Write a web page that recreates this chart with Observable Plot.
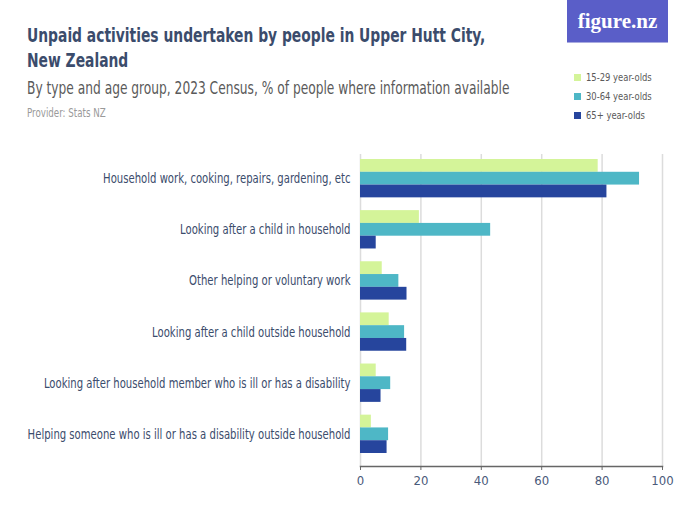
<!DOCTYPE html>
<html>
<head>
<meta charset="utf-8">
<script src="https://cdn.jsdelivr.net/npm/d3@7"></script>
<script src="https://cdn.jsdelivr.net/npm/@observablehq/plot@0.6"></script>
<style>
  html, body { margin: 0; padding: 0; background: #fff; }
  #chart { position: relative; width: 700px; height: 525px; overflow: hidden;
    font-family: "DejaVu Sans Condensed", "Liberation Sans Narrow", Roboto, sans-serif; }
  .narrow { position: absolute; left: 27px; transform-origin: 0 0; white-space: nowrap; }
  .title { top: 23px; font-size: 20px; line-height: 25px; font-weight: 600; color: #3b4c6c;
    transform: scaleX(0.77); }
  .subtitle { top: 78px; font-size: 17px; line-height: 20px; color: #5a5a5a; transform: scaleX(0.8); }
  .provider { top: 106px; font-size: 11.5px; line-height: 14px; color: #9a9a9a; transform: scaleX(0.84); }
  .logo { position: absolute; left: 567px; top: 0; width: 101px; height: 42px; background: #5a5ec8;
    border-bottom: 1px solid #a9abe0; color: #fff; text-align: center;
    font-family: "Liberation Serif", "DejaVu Serif", serif; font-weight: bold; font-size: 21px; line-height: 42px; }
  .legend { position: absolute; left: 574px; top: 68px; font-size: 11px; color: #5a5a5a; }
  .legend .row { display: flex; align-items: center; height: 19px; }
  .legend .sw { width: 7px; height: 7px; margin-right: 5px; flex: none; }
  .legend .lab { display: inline-block; transform: scaleX(0.85); transform-origin: 0 50%; white-space: nowrap; }
  #plot { position: absolute; left: 0; top: 130px; }
  #plot svg { font-family: "DejaVu Sans Condensed", "Liberation Sans Narrow", Roboto, sans-serif; }
  #plot g[aria-label="y-axis tick label"] text { fill: #3b4c6c; font-size: 14px; }
  #plot g[aria-label="x-axis tick label"] text { fill: #4a5a7a; font-size: 13px; }
  #plot g[aria-label="x-axis tick"] path { stroke: #6a6a6a; }
</style>
</head>
<body>
<div id="chart">
  <div class="narrow title">Unpaid activities undertaken by people in Upper Hutt City,<br>New Zealand</div>
  <div class="narrow subtitle">By type and age group, 2023 Census, % of people where information available</div>
  <div class="narrow provider">Provider: Stats NZ</div>
  <div class="logo">figure.nz</div>
  <div class="legend" id="legend"></div>
  <div id="plot"></div>
</div>
<script>
// Activity types, top to bottom
const categories = [
  "Household work, cooking, repairs, gardening, etc",
  "Looking after a child in household",
  "Other helping or voluntary work",
  "Looking after a child outside household",
  "Looking after household member who is ill or has a disability",
  "Helping someone who is ill or has a disability outside household"
];
const ageGroups = ["15-29 year-olds", "30-64 year-olds", "65+ year-olds"];
const groupColors = ["#d4f499", "#4eb7c6", "#26459d"];

// % of people in each age group
const age15to29 = [78.7, 19.5, 7.2, 9.5, 5.2, 3.6];
const age30to64 = [92.4, 43.1, 12.7, 14.6, 10.0, 9.3];
const age65plus = [81.6, 5.2, 15.4, 15.3, 6.8, 8.8];

const xTicks = [0, 20, 40, 60, 80, 100];

const series = [age15to29, age30to64, age65plus];
const key = (c, g) => c + "|" + g;
const rows = [];
categories.forEach((c, i) => {
  ageGroups.forEach((g, j) => rows.push({key: key(c, g), group: g, value: series[j][i]}));
});

// one band per bar, with an empty band separating each activity type
const yDomain = categories.flatMap((c, i) => [
  ...ageGroups.map(g => key(c, g)),
  ...(i < categories.length - 1 ? ["gap " + i] : [])
]);

// legend
const legend = document.getElementById("legend");
ageGroups.forEach((g, j) => {
  const row = document.createElement("div");
  row.className = "row";
  row.innerHTML = `<span class="sw" style="background:${groupColors[j]}"></span><span class="lab">${g}</span>`;
  legend.appendChild(row);
});

const chart = Plot.plot({
  width: 700,
  height: 395,
  marginTop: 24,
  marginBottom: 59,
  marginLeft: 360,
  marginRight: 38,
  x: {domain: [0, 100], ticks: xTicks, tickSize: 4, tickPadding: 5, label: null},
  y: {
    domain: yDomain, padding: 0, round: false, range: [29, 323],
    ticks: categories.map(c => key(c, ageGroups[1])),
    tickFormat: k => k.split("|")[0],
    tickSize: 0, tickPadding: 10, label: null
  },
  color: {domain: ageGroups, range: groupColors},
  marks: [
    Plot.ruleX(xTicks, {stroke: "#dcdcdc", strokeWidth: 1.5}),
    Plot.barX(rows, {y: "key", x: "value", fill: "group"}),
    Plot.frame({anchor: "bottom", stroke: "#666", strokeWidth: 1.5})
  ]
});
document.getElementById("plot").appendChild(chart);

// the activity labels are set in a condensed width
chart.querySelectorAll('g[aria-label="y-axis tick label"] text').forEach(t => {
  const w = t.getComputedTextLength();
  t.setAttribute("textLength", (w * 0.8).toFixed(1));
  t.setAttribute("lengthAdjust", "spacingAndGlyphs");
});
</script>
</body>
</html>
